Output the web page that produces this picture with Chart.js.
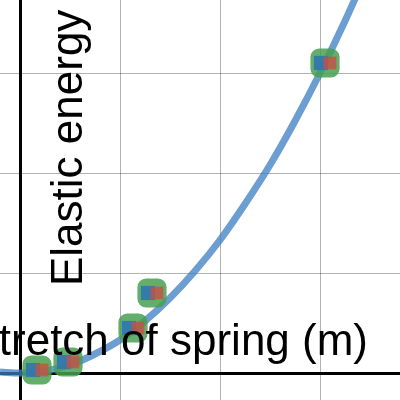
<!DOCTYPE html>
<html>
<head>
<meta charset="utf-8">
<script src="https://cdn.jsdelivr.net/npm/chart.js@4"></script>
<style>
  html, body { margin: 0; padding: 0; background: #fff; }
  #wrap { width: 400px; height: 400px; }
</style>
</head>
<body>
<div id="wrap"><canvas id="chart"></canvas></div>
<script>
// measured points (stretch m, energy J)
const stretch = [0.17, 0.48, 1.13, 1.32, 3.05];
const energy = [0.03, 0.11, 0.45, 0.80, 3.10];

// curve
const curveX = [-0.2, 0, 0.25, 0.5, 0.75, 1, 1.25, 1.5, 1.75, 2, 2.25, 2.5, 2.75, 3, 3.25, 3.5];
const curveY = [0.01, 0, 0.02, 0.08, 0.19, 0.33, 0.52, 0.75, 1.02, 1.33, 1.69, 2.08, 2.52, 3.0, 3.52, 4.08];

const gridTicks = [0, 1, 2, 3];

const xTitle = 'Stretch of spring (m)';
const yTitle = 'Elastic energy (J)';

const pts = stretch.map((x, i) => ({ x, y: energy[i] }));
const shift = (dx) => pts.map(p => ({ x: p.x + dx, y: p.y }));

const titles = {
  id: 'titles',
  afterDraw(chart) {
    const ctx = chart.ctx;
    ctx.save();
    ctx.fillStyle = '#000';
    ctx.font = '44px "Liberation Sans", Arial, sans-serif';
    ctx.textAlign = 'right';
    ctx.textBaseline = 'alphabetic';
    ctx.fillText(xTitle, 368, 355);
    ctx.translate(82, 286);
    ctx.rotate(-Math.PI / 2);
    ctx.textAlign = 'left';
    ctx.fillText(yTitle, 0, 0);
    ctx.restore();
  }
};

const grid = () => ({
  color: c => c.tick.value === 0 ? '#000' : 'rgba(0,0,0,0.3)',
  lineWidth: c => c.tick.value === 0 ? 3 : 1,
  drawTicks: false
});

new Chart(document.getElementById('chart'), {
  type: 'scatter',
  data: {
    datasets: [
      {
        data: curveX.map((x, i) => ({ x, y: curveY[i] })),
        showLine: true,
        borderColor: 'rgba(60,125,195,0.75)',
        borderWidth: 7,
        pointRadius: 0,
        cubicInterpolationMode: 'monotone',
        order: 4
      },
      {
        data: pts,
        pointStyle: 'rectRounded',
        pointRadius: 17,
        backgroundColor: 'rgba(70,160,80,0.85)',
        borderWidth: 0,
        order: 3
      },
      {
        data: shift(-0.04),
        pointStyle: 'rect',
        pointRadius: 10,
        backgroundColor: 'rgba(45,115,185,0.85)',
        borderWidth: 0,
        order: 2
      },
      {
        data: shift(0.05),
        pointStyle: 'rect',
        pointRadius: 9,
        backgroundColor: 'rgba(200,80,70,0.8)',
        borderWidth: 0,
        order: 1
      }
    ]
  },
  options: {
    responsive: true,
    maintainAspectRatio: false,
    animation: false,
    layout: { padding: 0, autoPadding: false },
    plugins: { legend: { display: false }, tooltip: { enabled: false } },
    scales: {
      x: {
        type: 'linear', min: -0.2, max: 3.8,
        afterBuildTicks: s => { s.ticks = gridTicks.map(v => ({ value: v })); },
        ticks: { display: false },
        grid: grid(),
        border: { display: false }
      },
      y: {
        type: 'linear', min: -0.27, max: 3.73,
        afterBuildTicks: s => { s.ticks = gridTicks.map(v => ({ value: v })); },
        ticks: { display: false },
        grid: grid(),
        border: { display: false }
      }
    }
  },
  plugins: [titles]
});
</script>
</body>
</html>
